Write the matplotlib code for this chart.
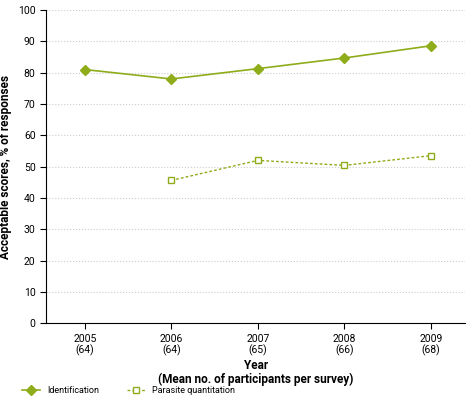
import matplotlib.pyplot as plt
plt.rcParams['font.family'] = ['Roboto', 'DejaVu Sans']
years = ['2005\n(64)', '2006\n(64)', '2007\n(65)', '2008\n(66)', '2009\n(68)']
ident = [81.0, 78.0, 81.3, 84.7, 88.6]
para_x = [1, 2, 3, 4]
para = [45.6, 52.0, 50.4, 53.5]
c = '#8fac1a'
fig = plt.figure(figsize=(4.74, 4.03), dpi=100)
ax = fig.add_axes([0.097, 0.198, 0.885, 0.777])
ax.plot(range(5), ident, color=c, marker='D', ms=5, lw=1.2, label='Identification')
ax.plot(para_x, para, color=c, marker='s', ms=5, lw=1.0, ls=(0, (2, 1.5)), mfc='white', label='Parasite quantitation')
ax.set_ylim(0, 100); ax.set_xlim(-0.45, 4.4)
ax.set_yticks(range(0, 101, 10))
ax.set_xticks(range(5)); ax.set_xticklabels(years, fontsize=7.5, linespacing=1.1)
ax.tick_params(axis='y', labelsize=7.5, length=4)
ax.tick_params(axis='x', length=4)
ax.grid(axis='y', ls=':', color='#cccccc', lw=0.8)
for s in ['top', 'right']: ax.spines[s].set_visible(False)
ax.set_xlabel('Year\n(Mean no. of participants per survey)', fontsize=8.5, fontweight='bold', labelpad=2, linespacing=1.1)
ax.set_ylabel('Acceptable scores, % of responses', fontsize=8.5, fontweight='bold', labelpad=4)
fig.legend(loc='lower left', bbox_to_anchor=(0.03, 0.0), ncol=2, frameon=False, fontsize=6.5, columnspacing=3)
fig.savefig('out.png')
